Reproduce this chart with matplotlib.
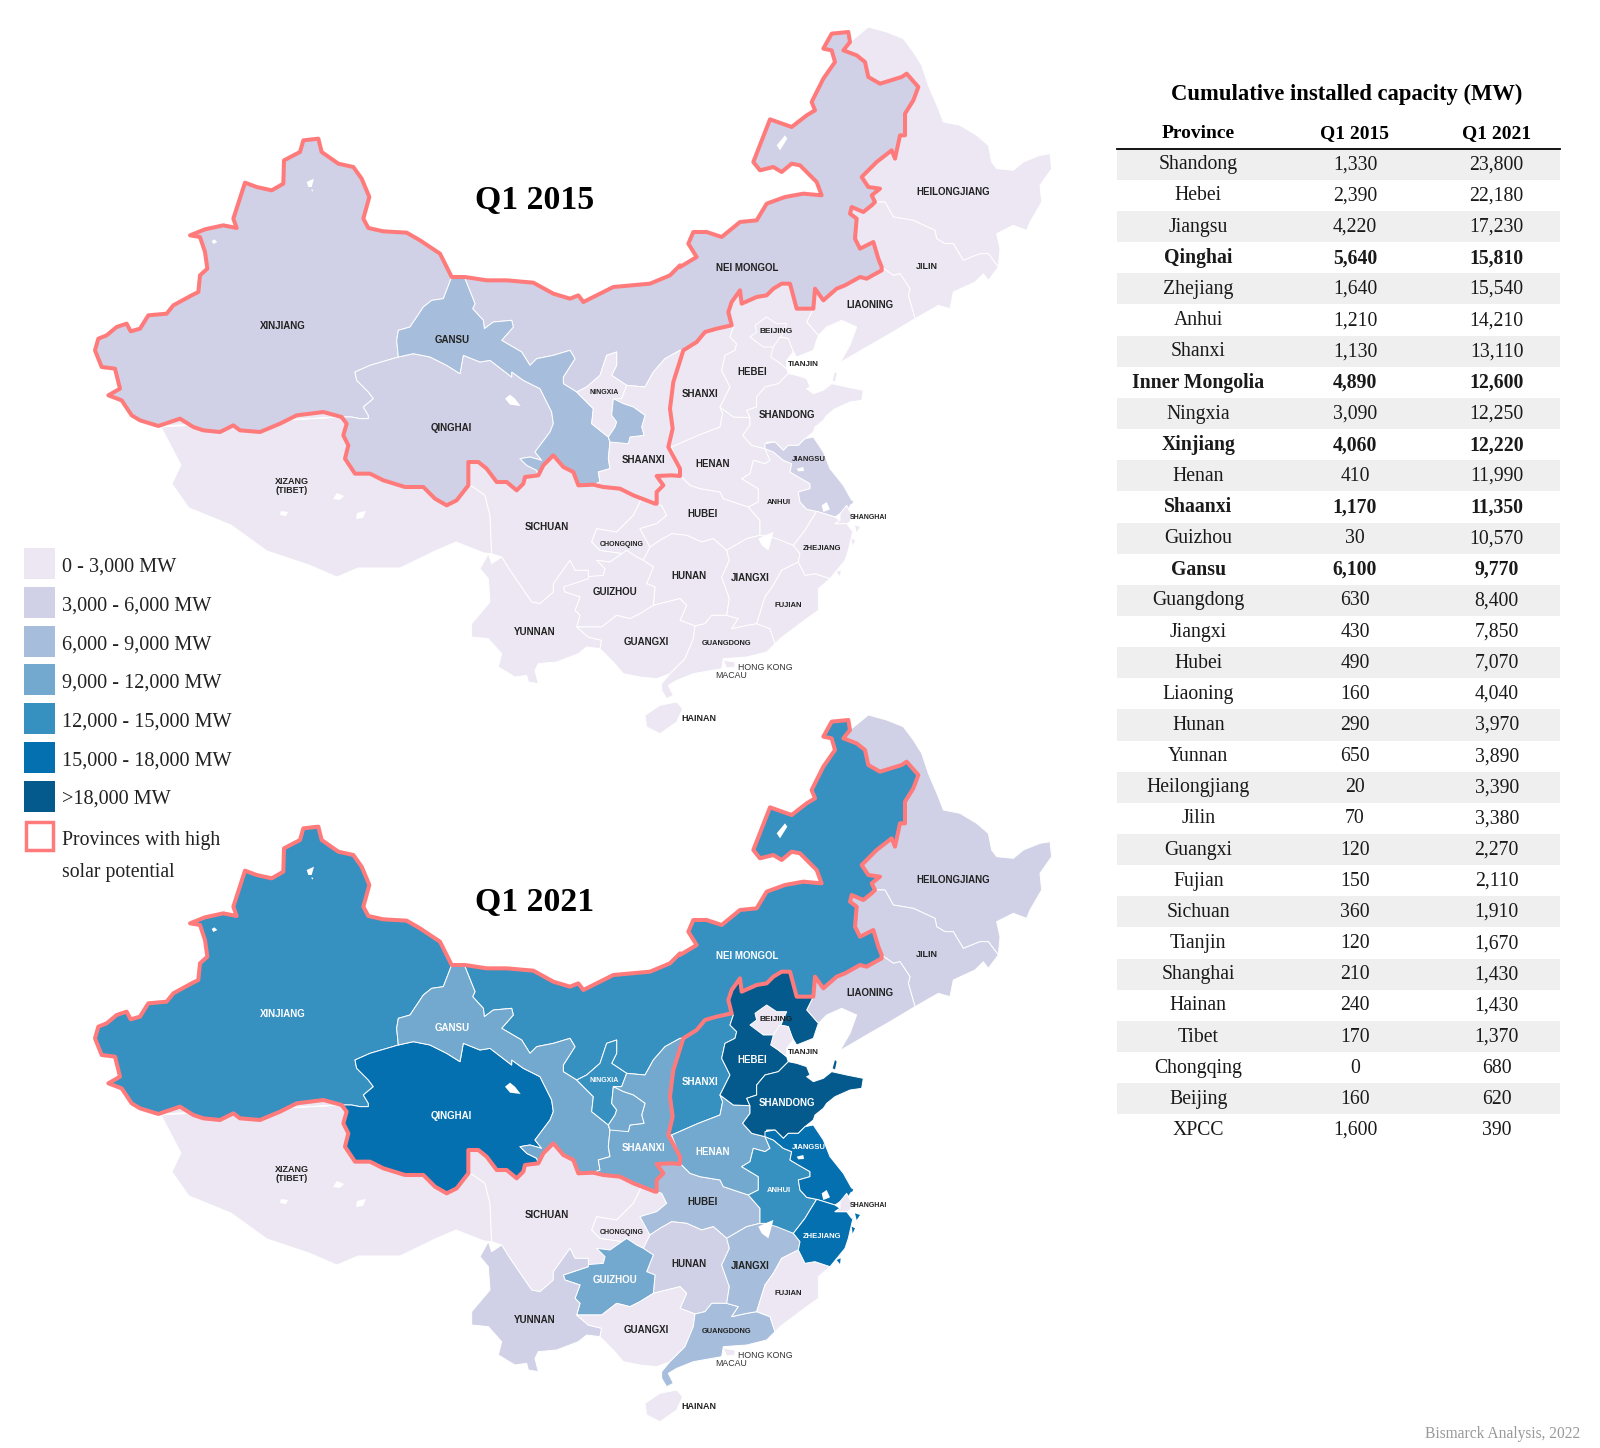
import numpy as np
import matplotlib
matplotlib.use("Agg")
import matplotlib.pyplot as plt
from matplotlib.patches import Polygon, Rectangle

# table data
provinces = ["Shandong", "Hebei", "Jiangsu", "Qinghai", "Zhejiang", "Anhui", "Shanxi", "Inner Mongolia",
             "Ningxia", "Xinjiang", "Henan", "Shaanxi", "Guizhou", "Gansu", "Guangdong", "Jiangxi", "Hubei",
             "Liaoning", "Hunan", "Yunnan", "Heilongjiang", "Jilin", "Guangxi", "Fujian", "Sichuan", "Tianjin",
             "Shanghai", "Hainan", "Tibet", "Chongqing", "Beijing", "XPCC"]
q1_2015 = [1330, 2390, 4220, 5640, 1640, 1210, 1130, 4890, 3090, 4060, 410, 1170, 30, 6100, 630, 430, 490,
           160, 290, 650, 20, 70, 120, 150, 360, 120, 210, 240, 170, 0, 160, 1600]
q1_2021 = [23800, 22180, 17230, 15810, 15540, 14210, 13110, 12600, 12250, 12220, 11990, 11350, 10570, 9770,
           8400, 7850, 7070, 4040, 3970, 3890, 3390, 3380, 2270, 2110, 1910, 1670, 1430, 1430, 1370, 680, 620, 390]
high_solar = ["Qinghai", "Inner Mongolia", "Xinjiang", "Shaanxi", "Gansu"]
# the 2015 map shades Ningxia in the lowest class even though the table says 3,090
lowest_class_2015 = ["Ningxia"]

bin_edges = [3000, 6000, 9000, 12000, 15000, 18000]
bin_colors = ["#ECE7F2", "#D0D1E6", "#A6BDDB", "#74A9CF", "#3690C0", "#0570B0", "#045A8D"]
legend_labels = ["0 - 3,000 MW", "3,000 - 6,000 MW", "6,000 - 9,000 MW", "9,000 - 12,000 MW",
                 "12,000 - 15,000 MW", "15,000 - 18,000 MW", ">18,000 MW"]
RED = "#FF7B7B"
SERIF = "Liberation Serif"
SANS = "Liberation Sans"

Z5 = (650, 960)
Z6 = (90, 810)
Z7 = (340, 940)
Z8 = (660, 710)
Z9 = (460, 1170)
Z11 = (600, 1020)


def at(crop, pts):
    return [(crop[0] + x / 3, crop[1] + y / 3) for x, y in pts]


XJ_NORTH = at(Z6, [(15, 685), (25, 650), (50, 640), (80, 615), (110, 605), (122, 628), (150, 620), (175, 580),
                   (230, 575), (250, 550), (305, 520), (325, 510), (330, 460), (352, 440), (345, 390), (330, 345),
                   (300, 340), (345, 322), (400, 310), (440, 318), (430, 290), (465, 182), (500, 195), (545, 205),
                   (580, 185), (582, 115), (630, 90), (640, 55), (685, 50), (695, 90), (745, 125), (790, 135),
                   (815, 170), (838, 225), (820, 290), (835, 318), (880, 328), (950, 332), (990, 355)]) + \
    at(Z7, [(300, 5), (335, 75)])
XJ_SOUTH = at(Z6, [(755, 885), (700, 870), (620, 880), (570, 905), (510, 930), (450, 925), (430, 910), (390, 930),
                   (340, 925), (310, 915), (270, 890), (205, 912), (150, 895), (125, 880), (95, 835), (55, 820),
                   (90, 800), (75, 740), (35, 735), (15, 685)])
RIM_NW = at(Z7, [(335, 75), (375, 75), (440, 85), (500, 85), (580, 92), (640, 125), (690, 140), (715, 130), (730, 150),
                 (820, 105), (930, 95), (990, 70), (1020, 40)]) + \
    at(Z8, [(60, 735), (110, 705), (85, 665), (100, 630), (140, 630), (185, 645), (240, 600), (290, 595), (320, 545),
            (375, 525), (430, 515), (485, 520), (470, 480), (420, 430), (395, 425), (365, 450), (340, 435), (300, 445),
            (280, 420), (330, 292), (395, 315), (440, 280), (465, 265), (455, 240), (490, 170), (525, 120), (515, 85),
            (490, 80), (515, 35), (565, 30), (570, 60)])
RIM_HLJ = at(Z8, [(570, 60), (550, 85), (590, 100), (615, 120), (625, 165), (660, 185), (725, 165), (740, 155), (775, 195),
                  (760, 235), (735, 275), (735, 340), (720, 340), (705, 410), (695, 385), (650, 420), (605, 465),
                  (625, 495), (660, 500), (635, 520), (645, 540)])
RIM_JL = at(Z8, [(645, 540), (635, 550), (610, 570), (575, 555), (570, 575), (590, 590), (585, 650), (600, 680), (640, 660),
                 (655, 710), (665, 735)])
RIM_LN = at(Z8, [(665, 735), (665, 745), (620, 770), (600, 765), (555, 790), (530, 800), (490, 835), (465, 800), (460, 860)])
RIM_HB = at(Z8, [(460, 860), (410, 860), (390, 785), (365, 785), (340, 800), (320, 820), (290, 825), (245, 845), (240, 805),
                 (215, 840), (205, 870), (215, 910)])
RIM_SX = at(Z8, [(215, 910), (170, 920), (135, 930), (110, 960)]) + at(Z11, [(250, 55)])
RED_SX = at(Z11, [(250, 55), (220, 150), (210, 230), (218, 290), (205, 345)])
RED_HN = at(Z11, [(205, 345), (240, 410), (240, 432)])
RED_HB = at(Z11, [(240, 432), (215, 430), (170, 432), (190, 460), (170, 480), (170, 515)])
SOUTH_SN = at(Z7, [(945, 755), (880, 730), (840, 710), (790, 705), (760, 698)])
SOUTH_GS = at(Z7, [(760, 698), (715, 700), (700, 660), (670, 645), (640, 610), (610, 640), (595, 670)])
SOUTH_QH1 = at(Z7, [(595, 670), (555, 675), (550, 695), (530, 715), (500, 690), (470, 690), (440, 650), (415, 630),
                    (385, 630), (385, 700)])
SOUTH_QH2 = at(Z7, [(385, 700), (350, 745), (320, 760), (285, 740), (250, 705), (195, 705), (130, 685), (90, 665), (45, 665),
                    (15, 620), (25, 580), (10, 550), (20, 515), (5, 495)])

GS_NM = at(Z7, [(335, 75), (375, 80), (405, 155), (398, 170), (430, 205), (433, 230), (460, 210), (515, 205), (520, 225),
                (485, 265), (545, 300), (570, 340), (590, 320), (640, 310), (690, 295), (705, 320), (670, 375), (670, 395),
                (710, 420)])
NX_NM = at(Z7, [(710, 420), (740, 405), (780, 370), (800, 310), (830, 300), (830, 340), (815, 370), (860, 400)])
SN_NM = at(Z7, [(860, 400), (915, 405), (940, 360), (975, 320), (1020, 295)]) + at(Z11, [(250, 55)])
GS_QH = at(Z7, [(595, 670), (590, 655), (560, 640), (540, 620), (570, 615), (605, 625), (585, 600), (600, 580), (630, 540),
                (640, 515), (635, 480), (620, 450), (600, 410), (550, 385), (515, 360), (515, 375), (450, 325), (420, 330),
                (370, 310), (360, 365), (320, 340), (270, 315), (220, 305), (175, 315)])
GS_XJ = at(Z7, [(175, 315), (170, 265), (175, 235), (210, 225), (250, 165), (275, 145), (310, 140), (335, 75)])
QH_XJ = at(Z7, [(175, 315), (90, 340), (45, 360), (50, 385), (85, 420), (100, 440), (70, 465), (85, 490), (85, 500), (60, 500),
                (35, 495), (5, 495)])
NX_GS = at(Z7, [(710, 420), (760, 470), (755, 515), (805, 555)])
GS_SN = at(Z7, [(805, 555), (810, 570), (805, 620), (810, 650), (775, 660), (780, 690), (760, 698)])

SX_HB = at(Z5, [(210, 405), (240, 345), (215, 295), (225, 250), (255, 235), (260, 215), (240, 195), (250, 165)])
SX_HEN = at(Z5, [(65, 525), (145, 490), (210, 465), (218, 425), (210, 405)])
HEN_SD = at(Z5, [(210, 405), (250, 435), (300, 437), (300, 460), (278, 490), (305, 520), (345, 530)])
HEN_AH = at(Z5, [(345, 530), (360, 565), (345, 575), (310, 565), (300, 605), (275, 620), (325, 650), (325, 690), (295, 705)])
HEN_HB = at(Z5, [(295, 705), (220, 680), (210, 660), (150, 650), (120, 640), (95, 615), (90, 590)])
AH_JS = at(Z5, [(345, 530), (370, 540), (400, 565), (425, 575), (420, 600), (440, 612), (480, 635), (480, 650), (445, 660),
                (450, 690), (470, 712), (500, 718)])
HB_HN = at(Z9, [(860, 170), (800, 205), (760, 170), (725, 180), (680, 160), (635, 155), (600, 175), (570, 195)])
HN_GZ = at(Z9, [(550, 235), (580, 255), (560, 305), (585, 315), (580, 370)])
GX_GZ = at(Z9, [(350, 435), (370, 435), (425, 435), (470, 400), (510, 410), (540, 395), (580, 370)])
GX_HN = at(Z9, [(580, 370), (620, 360), (660, 350), (680, 370), (660, 415), (705, 432)])
HN_GD = at(Z9, [(705, 432), (735, 425), (755, 400), (800, 400)])
HN_JX = at(Z9, [(800, 400), (808, 350), (785, 285), (808, 235), (800, 205)])
JX_GD = at(Z9, [(800, 400), (835, 410), (815, 440), (860, 430), (890, 425)])
JX_FJ = at(Z9, [(890, 425), (915, 345), (940, 310), (965, 265), (1015, 240)])
YN_GZ = at(Z9, [(385, 290), (310, 315), (315, 330), (360, 345), (345, 385), (360, 400), (350, 435)])
YN_SC = at(Z9, [(95, 215), (125, 225), (150, 265), (215, 360), (240, 365), (280, 330), (280, 305), (330, 235), (345, 265),
                (385, 265), (385, 290)])
HL_JL = at(Z8, [(645, 540), (675, 540), (700, 585), (760, 595), (825, 625), (830, 650), (855, 665), (880, 665), (910, 715),
                (935, 705), (960, 695), (985, 695), (1015, 735)])
TIBET_SC = at(Z7, [(385, 700), (400, 705)]) + at(Z9, [(75, 40), (90, 100), (95, 215)])

province_shapes = {
    "Tibet": XJ_SOUTH[:12][::-1] + [(161, 1115), (181, 1153), (172, 1172), (189, 1196), (231, 1213), (267, 1239), (309, 1253),
                                    (337, 1265), (358, 1256), (400, 1256), (435, 1239), (456, 1230), (484, 1241)] +
             TIBET_SC[::-1] + SOUTH_QH2[1:],
    "Sichuan": SOUTH_SN + SOUTH_GS[1:] + SOUTH_QH1[1:] + TIBET_SC[1:] + YN_SC[1:] +
               at(Z9, [(430, 280), (435, 260), (410, 235), (450, 240), (500, 205), (490, 215), (420, 205), (395, 180), (410, 140),
                       (470, 150), (520, 100), (545, 50), (585, 65)]),
    "Chongqing": at(Z9, [(585, 65), (545, 50), (520, 100), (470, 150), (410, 140), (395, 180), (420, 205), (490, 215), (500, 205),
                         (530, 225), (550, 235), (570, 195), (540, 140), (590, 125), (620, 100), (605, 70)]),
    "Hubei": RED_HB[::-1] + at(Z5, [(95, 615), (120, 640), (150, 650), (210, 660), (220, 680), (295, 705),
                                    (330, 745), (330, 790)]) + HB_HN +
             at(Z9, [(540, 140), (590, 125), (620, 100), (605, 70)]),
    "Hunan": HB_HN[1:] + at(Z9, [(550, 235)]) + HN_GZ[1:] + GX_HN[1:] + HN_GD[1:] + HN_JX[1:],
    "Guizhou": at(Z9, [(410, 235), (450, 240), (500, 205), (530, 225), (550, 235)]) + HN_GZ[1:] + GX_GZ[::-1][1:] + YN_GZ[::-1][1:] +
               at(Z9, [(370, 285), (430, 280), (435, 260)]),
    "Yunnan": at(Z9, [(60, 260), (85, 215), (95, 245)]) + YN_SC[1:] + YN_GZ[1:] +
              at(Z9, [(385, 465), (425, 475), (420, 500), (380, 495), (355, 515), (290, 540), (235, 545), (225, 565), (235, 605),
                      (205, 600), (200, 580), (165, 585), (115, 555), (125, 515), (85, 470), (35, 465), (35, 425), (90, 360),
                      (85, 290)]),
    "Guangxi": GX_GZ + GX_HN[1:] + at(Z9, [(700, 470), (675, 530), (630, 575), (590, 590), (540, 585), (490, 575), (460, 540), (420, 500),
                                          (425, 475), (385, 465)]),
    "Guangdong": HN_GD + JX_GD[1:] + at(Z9, [(930, 440), (945, 485), (920, 510), (860, 525), (790, 530), (785, 560), (700, 575), (650, 595),
                                            (625, 610), (640, 640), (620, 650), (605, 625), (605, 605), (630, 575), (675, 530), (700, 470)]),
    "Jiangxi": at(Z9, [(800, 205), (860, 170), (900, 160), (950, 160), (1000, 190), (1020, 215), (1015, 240)]) + JX_FJ[::-1][1:] + JX_GD[::-1][1:] +
               HN_JX[1:],
    "Fujian": JX_FJ + at(Z9, [(1035, 280), (1065, 275), (1110, 290), (1075, 320), (1075, 385), (1040, 410), (1000, 440), (960, 470), (945, 485),
                              (930, 440)]),
    "Hainan": at(Z9, [(555, 700), (600, 670), (650, 660), (668, 680), (650, 720), (600, 755), (560, 735)]),
    "Heilongjiang": RIM_HLJ + HL_JL[1:] + at(Z8, [(1020, 680), (1010, 635), (1060, 610), (1100, 625), (1110, 600), (1145, 540), (1140, 490), (1175, 440),
                                                  (1170, 395), (1140, 400), (1090, 420), (1060, 445), (1010, 440), (995, 420), (985, 370), (950, 340),
                                                  (900, 310), (850, 300), (835, 260), (805, 190), (785, 130), (760, 90), (730, 50), (680, 30), (625, 15)]),
    "Jilin": RIM_JL + at(Z8, [(700, 760), (720, 755), (750, 800), (745, 820), (765, 890), (835, 850), (870, 860), (880, 810), (945, 780), (970, 755),
                              (985, 775)]) + HL_JL[::-1][:-1],
    "Liaoning": RIM_LN + at(Z5, [(470, 150), (505, 190), (530, 165), (575, 145), (620, 165), (600, 220), (570, 272), (650, 225), (720, 185)]) +
                at(Z8, [(765, 890), (745, 820), (750, 800), (720, 755), (700, 760)]),
    "Inner Mongolia": RIM_NW + RIM_HLJ[1:] + RIM_JL[1:] + RIM_LN[1:] + RIM_HB[1:] + RIM_SX[1:] + SN_NM[::-1][1:] + NX_NM[::-1][1:] + GS_NM[::-1][1:],
    "Xinjiang": XJ_NORTH + GS_XJ[::-1][1:] + QH_XJ[1:] + XJ_SOUTH,
    "Qinghai": QH_XJ[::-1] + GS_QH[::-1][1:] + SOUTH_QH1[1:] + SOUTH_QH2[1:],
    "Gansu": GS_NM + NX_GS[1:] + GS_SN[1:] + SOUTH_GS[1:] + GS_QH[1:] + GS_XJ[1:],
    "Ningxia": NX_NM + at(Z7, [(845, 440), (820, 440), (815, 490), (830, 510), (825, 525), (805, 555), (755, 515), (760, 470)]),
    "Shaanxi": SN_NM + RED_SX[1:] + RED_HN[1:] + RED_HB[1:] + SOUTH_SN + GS_SN[::-1][1:] +
               at(Z7, [(865, 575), (870, 555), (912, 550), (905, 525), (915, 490), (880, 465), (850, 455), (820, 440), (845, 440)]),
    "Shanxi": RIM_SX + RED_SX[1:] + SX_HEN + SX_HB[1:],
    "Henan": SX_HEN + HEN_SD[1:] + HEN_AH[1:] + HEN_HB[1:],
    "Hebei": RIM_HB[::-1] + at(Z5, [(470, 150), (505, 190), (490, 235), (440, 255), (425, 230), (415, 200), (390, 195), (380, 225), (365, 255), (385, 270),
                                    (410, 290), (415, 305), (385, 335), (345, 345), (320, 375), (320, 405), (290, 415), (300, 437), (250, 435)]) + SX_HB,
    "Beijing": at(Z5, [(315, 160), (350, 135), (380, 155), (410, 155), (395, 190), (390, 200), (370, 225), (340, 225), (300, 195), (320, 180)]),
    "Tianjin": at(Z5, [(390, 195), (415, 200), (430, 240), (410, 265), (410, 290), (385, 270), (362, 255), (370, 225)]),
    "Shandong": at(Z5, [(415, 305), (440, 310), (470, 320), (480, 345), (470, 350), (490, 365), (520, 355), (545, 335), (590, 345), (640, 355), (635, 385),
                        (600, 390), (555, 410), (530, 430), (520, 445), (495, 465), (490, 480), (465, 500), (445, 520), (415, 520), (400, 535), (375, 510),
                        (350, 510), (345, 530), (305, 520), (278, 490), (300, 460), (300, 437), (290, 415), (320, 405), (320, 375), (345, 345), (385, 335)]),
    "Anhui": AH_JS + at(Z5, [(480, 750), (465, 775), (430, 820), (380, 800), (345, 790), (330, 790), (330, 745)]) + HEN_AH[::-1][:-1],
    "Jiangsu": at(Z5, [(345, 515), (375, 510), (400, 535), (415, 520), (445, 520), (465, 500), (490, 495), (520, 540), (540, 590), (580, 640), (608, 690),
                       (595, 710), (570, 725), (555, 735)]) + AH_JS[::-1],
    "Zhejiang": at(Z5, [(430, 820), (465, 775), (480, 750), (500, 718), (555, 735), (570, 745), (555, 755), (590, 755), (605, 775)]) +
                at(Z9, [(1180, 140), (1165, 205), (1155, 235), (1110, 290), (1065, 275), (1035, 280), (1015, 240), (1020, 215), (1000, 190)]),
    "Shanghai": at(Z5, [(570, 725), (590, 700), (605, 730), (600, 750), (590, 755), (555, 755), (570, 745)]),
    "Hong Kong": at(Z9, [(790, 535), (825, 540), (825, 555), (800, 558)]),
}
# detached bits: the eastern part of Gansu and a few islands, no white edge on the islands
detached_parts = [
    ("Gansu", at(Z7, [(820, 440), (850, 455), (880, 465), (915, 490), (905, 525), (912, 550), (870, 555), (865, 575), (810, 570),
                      (805, 555), (825, 525), (830, 510), (815, 490)]), 0.7),
    ("Zhejiang", at(Z9, [(1185, 130), (1200, 135), (1190, 150)]), 0),
    ("Zhejiang", at(Z9, [(1175, 170), (1185, 175), (1178, 190)]), 0),
    ("Zhejiang", at(Z9, [(1130, 270), (1142, 265), (1140, 282)]), 0),
    ("Jiangsu", at(Z5, [(555, 665), (610, 688), (606, 696), (570, 682)]), 0),
    ("Shandong", at(Z5, [(548, 325), (555, 300), (560, 305), (555, 328)]), 0),
]

lakes = [
    at(Z6, [(650, 180), (672, 170), (665, 195), (655, 195)]),
    at(Z6, [(663, 203), (670, 203), (668, 209)]),
    at(Z6, [(365, 357), (373, 352), (382, 360), (370, 366)]),
    at(Z7, [(495, 440), (510, 428), (525, 440), (542, 462), (510, 458)]),
    at(Z8, [(350, 370), (375, 340), (382, 350), (360, 385)]),
    at(Z5, [(440, 590), (460, 585), (462, 597), (445, 598)]),
    at(Z5, [(515, 700), (530, 690), (540, 712), (520, 720)]),
    at(Z9, [(895, 170), (915, 160), (940, 150), (935, 170), (925, 205), (905, 190)]),
    [(337, 1181), (344, 1184), (340, 1188), (333, 1187)],
    [(281, 1199), (288, 1200), (286, 1204), (280, 1203)],
    [(357, 1201), (366, 1199), (363, 1206), (356, 1207)],
]

# label, province it belongs to, centre x, centre y (lower map), font size
map_labels = [
    ("XINJIANG", "Xinjiang", 282.7, 1014, 7), ("GANSU", "Gansu", 452, 1027.7, 7), ("QINGHAI", "Qinghai", 451.7, 1115.7, 7),
    ("NINGXIA", "Ningxia", 604, 1080, 5), ("SHAANXI", "Shaanxi", 643.3, 1148.3, 7), ("SICHUAN", "Sichuan", 546.7, 1214.7, 7),
    ("XIZANG\n(TIBET)", "Tibet", 292, 1174, 6.5), ("CHONGQING", "Chongqing", 621.7, 1232.3, 5), ("GUIZHOU", "Guizhou", 615, 1280, 7),
    ("HUNAN", "Hunan", 688.7, 1264, 7), ("JIANGXI", "Jiangxi", 750, 1266, 7), ("HUBEI", "Hubei", 702, 1202.3, 7),
    ("ANHUI", "Anhui", 779.3, 1190, 5.5), ("ZHEJIANG", "Zhejiang", 822.3, 1236.3, 5.5), ("FUJIAN", "Fujian", 788, 1293.3, 5.5),
    ("GUANGDONG", "Guangdong", 727, 1331.3, 5.3), ("GUANGXI", "Guangxi", 646.3, 1330.3, 7), ("YUNNAN", "Yunnan", 535, 1319.7, 7),
    ("HAINAN", "Hainan", 699.3, 1406.7, 6.5), ("SHANGHAI", "Shanghai", 868.7, 1205.3, 5), ("JIANGSU", "Jiangsu", 809, 1147.3, 5.5),
    ("HENAN", "Henan", 712.3, 1151.7, 7), ("SHANDONG", "Shandong", 786.7, 1103.3, 7), ("HEBEI", "Hebei", 751.7, 1060, 7),
    ("SHANXI", "Shanxi", 699.7, 1081.7, 7), ("TIANJIN", "Tianjin", 803.3, 1052, 5.8), ("BEIJING", "Beijing", 776, 1019.7, 6),
    ("LIAONING", "Liaoning", 870, 993.3, 7), ("JILIN", "Jilin", 926.7, 954.3, 6.5), ("HEILONGJIANG", "Heilongjiang", 953.3, 880.3, 7),
    ("NEI MONGOL", "Inner Mongolia", 746.7, 955.7, 7),
]

fig = plt.figure(figsize=(16, 14.48), dpi=100)
ax = fig.add_axes([0, 0, 1, 1])
ax.set_xlim(0, 1600)
ax.set_ylim(1448, 0)
ax.axis("off")


def draw_map(values, dy, title, title_y, lowest=()):
    caps = dict(zip(provinces, values))

    def colour(name):
        if name in lowest:
            return bin_colors[0]
        return bin_colors[np.digitize(caps.get(name, 0), bin_edges)]

    def shift(pts):
        return [(x, y + dy) for x, y in pts]

    for name, pts in province_shapes.items():
        ax.add_patch(Polygon(shift(pts), closed=True, fc=colour(name), ec="white", lw=0.7, joinstyle="round", zorder=2))
    for name, pts, lw in detached_parts:
        ax.add_patch(Polygon(shift(pts), closed=True, fc=colour(name), ec="white" if lw else "none", lw=lw, zorder=2))
    for lake in lakes:
        ax.add_patch(Polygon(shift(lake), closed=True, fc="white", ec="none", zorder=3))

    # high solar provinces share one red outline
    outline = XJ_NORTH + RIM_NW[1:] + RIM_HLJ[1:] + RIM_JL[1:] + RIM_LN[1:] + RIM_HB[1:] + RIM_SX[1:] + RED_SX[1:] + RED_HN[1:] + \
        RED_HB[1:] + SOUTH_SN + SOUTH_GS[1:] + SOUTH_QH1[1:] + SOUTH_QH2[1:] + XJ_SOUTH
    ax.add_patch(Polygon(shift(outline), closed=True, fill=False, ec=RED, lw=2.9, joinstyle="round", zorder=4))

    for text, name, x, y, size in map_labels:
        white = caps[name] >= 9000
        ax.text(x, y + dy, text, ha="center", va="center", family=SANS, weight="bold", fontsize=size,
                color="white" if white else "#222222", linespacing=1.0, zorder=5)
    ax.text(765, 1355 + dy, "HONG KONG", ha="center", va="center", family=SANS, fontsize=6.3, color="#333333", zorder=5)
    ax.text(731, 1364 + dy, "MACAU", ha="center", va="center", family=SANS, fontsize=6.3, color="#333333", zorder=5)
    ax.text(535, title_y, title, ha="center", va="center", family=SERIF, weight="bold", fontsize=24.3, color="black", zorder=6)


draw_map(q1_2015, -688, "Q1 2015", 200, lowest_class_2015)
draw_map(q1_2021, 0, "Q1 2021", 903)

# legend
for i, (col, lab) in enumerate(zip(bin_colors, legend_labels)):
    top = 548.3 + i * 38.7
    ax.add_patch(Rectangle((24, top), 30.5, 31, fc=col, ec="none", zorder=3))
    ax.text(62, top + 19, lab, ha="left", va="center", family=SERIF, fontsize=14.6, color="#222222")
ax.add_patch(Rectangle((25.5, 821.5), 27.5, 28, fill=False, ec=RED, lw=2.5, zorder=3))
ax.text(62, 840, "Provinces with high", ha="left", va="center", family=SERIF, fontsize=14.2, color="#222222")
ax.text(62, 872, "solar potential", ha="left", va="center", family=SERIF, fontsize=14.2, color="#222222")

# table
ax.text(1347, 94, "Cumulative installed capacity (MW)", ha="center", va="center", family=SERIF, weight="bold", fontsize=16.3, color="black")
col_x = [1198.3, 1355, 1496.7]
for x, head in zip(col_x, ["Province", "Q1 2015", "Q1 2021"]):
    ax.text(x, 133.5, head, ha="center", va="center", family=SERIF, weight="bold", fontsize=14, color="black")
row_h = 31.15
for i, (name, a, b) in enumerate(zip(provinces, q1_2015, q1_2021)):
    if i % 2 == 0:
        ax.add_patch(Rectangle((1117.3, 148.7 + i * row_h), 442.7, row_h, fc="#EFEFEF", ec="none", zorder=1))
    w = "bold" if name in high_solar else "normal"
    y = 164.8 + i * row_h
    for x, s in zip(col_x, [name, f"{a:,}", f"{b:,}"]):
        ax.text(x, y, s, ha="center", va="center", family=SERIF, weight=w, fontsize=14.2, color="#1a1a1a", zorder=2)
ax.plot([1117.3, 1560], [148.7, 148.7], color="black", lw=1.3, zorder=3)

ax.text(1580, 1434.5, "Bismarck Analysis, 2022", ha="right", va="center", family=SERIF, fontsize=11.2, color="#999999")

fig.savefig("out.png", dpi=100, facecolor="white")
